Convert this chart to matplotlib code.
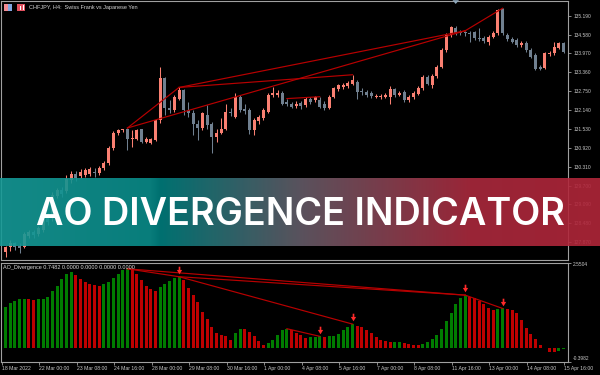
import numpy as np
import matplotlib
matplotlib.use("Agg")
import matplotlib.pyplot as plt
from matplotlib.font_manager import FontProperties, fontManager
from matplotlib.textpath import TextPath
from matplotlib.path import Path
from matplotlib.patches import Rectangle, Polygon

# ---------------- data ----------------
symbol_title = "CHFJPY, H4:  Swiss Frank vs Japanese Yen"
indicator_title = "AO_Divergence 0.7482 0.0000 0.0000 0.0000 0.0000"
banner_title = "AO DIVERGENCE INDICATOR"

open_p = [127.54, 127.70, 127.83, 127.76, 127.73, 128.06, 128.19, 128.15, 128.25, 128.70,
          128.64, 129.35, 129.55, 129.51, 129.87, 130.06, 130.00, 130.03, 130.06, 130.14,
          130.10, 130.26, 130.42, 130.90, 131.39, 131.49, 131.54, 131.19, 131.22, 131.53,
          131.11, 131.08, 131.16, 131.81, 133.16, 132.19, 132.13, 132.51, 132.78, 132.13,
          132.04, 131.70, 131.57, 131.97, 131.68, 131.27, 131.40, 131.52, 132.08, 131.92,
          132.57, 132.16, 132.13, 131.49, 131.79, 131.87, 132.08, 132.62, 132.62, 132.68,
          132.40, 132.33, 132.26, 132.36, 132.30, 132.51, 132.46, 132.48, 132.35, 132.22,
          132.57, 132.81, 132.87, 132.91, 132.99, 133.05, 132.76, 132.72, 132.68, 132.57,
          132.57, 132.57, 132.55, 132.81, 132.63, 132.73, 132.46, 132.55, 132.65, 132.84,
          133.21, 132.94, 133.24, 133.54, 134.08, 134.56, 134.80, 134.67, 134.67, 134.64,
          134.65, 134.46, 134.46, 134.35, 134.51, 134.62, 135.39, 134.56, 134.42, 134.40,
          134.24, 134.29, 134.08, 133.92, 133.54, 133.50, 133.95, 133.97, 134.16, 134.29]
high_p = [127.76, 127.93, 127.89, 127.83, 128.19, 128.25, 128.28, 128.38, 128.80, 128.80,
          129.48, 129.61, 129.64, 130.03, 130.16, 130.16, 130.22, 130.26, 130.29, 130.26,
          130.32, 130.48, 130.97, 131.45, 131.53, 131.53, 131.56, 131.49, 131.54, 131.54,
          131.26, 131.23, 131.84, 133.54, 133.20, 132.46, 132.62, 132.87, 132.81, 132.40,
          132.13, 131.81, 132.07, 132.30, 131.75, 131.54, 131.87, 132.35, 132.20, 132.68,
          132.62, 132.33, 132.20, 131.88, 131.97, 132.20, 132.70, 132.89, 132.78, 132.75,
          132.51, 132.39, 132.43, 132.43, 132.57, 132.57, 132.59, 132.57, 132.43, 132.62,
          132.88, 132.99, 133.01, 133.07, 133.28, 133.11, 132.85, 132.78, 132.75, 132.65,
          132.65, 132.69, 132.91, 132.85, 132.75, 132.78, 132.62, 132.75, 132.91, 133.27,
          133.27, 133.30, 133.59, 134.14, 134.63, 134.85, 134.84, 134.72, 134.70, 134.69,
          134.69, 134.78, 134.53, 134.56, 134.69, 135.40, 135.43, 134.63, 134.50, 134.47,
          134.37, 134.37, 134.14, 133.98, 133.59, 134.01, 134.04, 134.35, 134.34, 134.34]
low_p = [127.38, 127.60, 127.63, 127.51, 127.67, 127.99, 127.99, 128.06, 128.19, 128.41,
         128.57, 129.29, 129.32, 129.45, 129.77, 129.84, 129.93, 129.97, 130.00, 129.97,
         130.03, 130.19, 130.35, 130.84, 131.33, 131.42, 130.84, 130.95, 131.16, 131.07,
         131.07, 131.03, 131.13, 131.71, 131.97, 132.03, 132.07, 132.46, 131.97, 131.92,
         131.33, 131.16, 131.49, 131.54, 130.74, 131.11, 131.36, 131.49, 131.94, 131.88,
         132.07, 132.00, 131.38, 131.33, 131.68, 131.81, 132.04, 132.56, 132.56, 132.30,
         132.26, 132.19, 132.20, 132.17, 132.23, 132.33, 132.39, 132.20, 132.13, 132.17,
         132.52, 132.75, 132.81, 132.85, 132.94, 132.51, 132.62, 132.56, 132.52, 132.52,
         132.51, 132.52, 132.35, 132.56, 132.59, 132.39, 132.40, 132.49, 132.62, 132.78,
         132.94, 132.84, 133.17, 133.50, 134.01, 134.50, 134.56, 134.56, 134.53, 134.35,
         134.40, 134.37, 134.30, 134.24, 134.47, 134.56, 134.56, 134.37, 134.30, 134.17,
         134.17, 134.02, 133.82, 133.43, 133.43, 133.46, 133.88, 133.92, 134.11, 133.98]
close_p = [127.70, 127.83, 127.73, 127.67, 128.12, 128.19, 128.09, 128.32, 128.74, 128.51,
           129.38, 129.55, 129.42, 129.90, 130.06, 129.93, 130.13, 130.19, 130.22, 130.10,
           130.26, 130.42, 130.90, 131.39, 131.50, 131.52, 131.22, 131.25, 131.51, 131.11,
           131.22, 131.19, 131.81, 133.16, 132.19, 132.13, 132.57, 132.78, 132.13, 132.04,
           131.70, 131.57, 132.03, 131.65, 131.27, 131.40, 131.54, 132.08, 132.03, 132.57,
           132.13, 132.11, 131.49, 131.81, 131.90, 132.13, 132.62, 132.68, 132.70, 132.35,
           132.33, 132.24, 132.35, 132.26, 132.51, 132.40, 132.55, 132.24, 132.22, 132.57,
           132.84, 132.94, 132.94, 133.02, 133.11, 132.73, 132.72, 132.64, 132.59, 132.60,
           132.60, 132.62, 132.81, 132.62, 132.68, 132.46, 132.55, 132.68, 132.84, 133.21,
           132.99, 133.24, 133.54, 134.08, 134.56, 134.81, 134.62, 134.62, 134.62, 134.59,
           134.46, 134.42, 134.38, 134.49, 134.64, 135.37, 134.62, 134.42, 134.35, 134.24,
           134.31, 134.08, 133.86, 133.48, 133.48, 133.97, 133.99, 134.18, 134.29, 134.02]

ao_values = [1.233, 1.354, 1.414, 1.465, 1.474, 1.462, 1.444, 1.453, 1.474, 1.525,
             1.706, 1.865, 2.046, 2.217, 2.256, 2.175, 2.046, 1.955, 1.916, 1.874,
             1.865, 1.904, 1.977, 2.076, 2.217, 2.316, 2.362, 2.338, 2.217, 2.037,
             1.856, 1.754, 1.715, 1.814, 1.916, 1.995, 2.076, 2.127, 2.016, 1.805,
             1.573, 1.375, 1.074, 0.872, 0.623, 0.451, 0.400, 0.352, 0.241, 0.451,
             0.572, 0.557, 0.490, 0.370, 0.220, 0.099, 0.144, 0.256, 0.400, 0.526,
             0.578, 0.542, 0.451, 0.391, 0.301, 0.322, 0.340, 0.352, 0.340, 0.349,
             0.358, 0.421, 0.542, 0.623, 0.716, 0.671, 0.623, 0.542, 0.451, 0.322,
             0.256, 0.205, 0.181, 0.187, 0.193, 0.159, 0.120, 0.099, 0.081, 0.111,
             0.181, 0.280, 0.400, 0.581, 0.803, 1.032, 1.303, 1.483, 1.579, 1.534,
             1.483, 1.405, 1.303, 1.203, 1.134, 1.164, 1.182, 1.164, 1.134, 1.032,
             0.833, 0.602, 0.430, 0.280, 0.099, 0.009, -0.120, -0.129, -0.099, -0.015]

price_ticks = [135.190, 134.580, 133.970, 133.360, 132.750, 132.140, 131.530,
               130.920, 130.310, 129.700, 129.090, 128.480, 127.870]
price_range = (127.311, 135.663)
ao_range = (-0.3982, 2.5504)

time_labels = ["18 Mar 2022", "22 Mar 00:00", "23 Mar 08:00", "24 Mar 16:00",
               "28 Mar 00:00", "29 Mar 08:00", "30 Mar 16:00", "1 Apr 00:00",
               "4 Apr 08:00", "5 Apr 16:00", "7 Apr 00:00", "8 Apr 08:00",
               "11 Apr 16:00", "13 Apr 00:00", "14 Apr 08:00", "15 Apr 16:00"]
time_label_bars = [0, 8, 16, 24, 32, 40, 48, 56, 64, 72, 80, 88, 96, 104, 112, 120]

divergence_pairs = [(26, 37), (37, 98), (26, 98), (37, 74), (60, 67), (98, 106)]
arrow_bars = [37, 67, 74, 98, 106]

# ---------------- style / layout ----------------
W, H = 600, 375
BAR0_PX, BAR_STEP_PX = 5.5, 4.69
SALMON, SLATE = "#FA8072", "#708090"
AO_UP, AO_DN = "#007C00", "#BE0000"
DIV_COL, ARROW_COL = "#B80000", "#FF2A2A"
FRAME = "#A0A0A0"
LABEL = "#C8C8C8"

names = {f.name for f in fontManager.ttflist}
small_family = "Liberation Sans" if "Liberation Sans" in names else "DejaVu Sans"

fig = plt.figure(figsize=(W / 100, H / 100), dpi=100, facecolor="black")


def box(x0, y0, x1, y1):
    return [x0 / W, 1 - y1 / H, (x1 - x0) / W, (y1 - y0) / H]


def ink(s, fp):
    return TextPath((0, 0), s, size=100, prop=fp).get_extents()


def fit_size(s, fp, width_px):
    return width_px * 72.0 / ink(s, fp).width


def put_text(s, fp, left_px, right_px, center_y_px, color, zorder=3):
    ext = ink(s, fp)
    f = (right_px - left_px) * 72.0 / ext.width
    x_anchor = left_px - ext.x0 * f / 72.0
    base = center_y_px + (ext.y0 + ext.y1) / 2 * f / 72.0
    fp2 = fp.copy()
    fp2.set_size(f)
    fig.text(x_anchor / W, 1 - base / H, s, fontproperties=fp2, color=color,
             ha="left", va="baseline", zorder=zorder)


n = len(close_p)
idx = np.arange(n)
o = np.array(open_p); c = np.array(close_p)
hi = np.array(high_p); lo = np.array(low_p)
ao = np.array(ao_values)

xlim = ((1 - BAR0_PX) / BAR_STEP_PX, (568 - BAR0_PX) / BAR_STEP_PX)
body_w = 3.0 / BAR_STEP_PX

ax1 = fig.add_axes(box(1, 1, 568, 259.5))
ax2 = fig.add_axes(box(1, 262.5, 568, 361.5))
for ax in (ax1, ax2):
    ax.set_facecolor("black")
    ax.set_xlim(*xlim)
    for sp in ax.spines.values():
        sp.set_color(FRAME)
        sp.set_linewidth(0.8)

# candles
up = c >= o
ccol = np.where(up, SALMON, SLATE)
ax1.vlines(idx, lo, hi, colors=ccol, linewidth=0.75)
body_lo = np.minimum(o, c)
body_h = np.maximum(np.abs(c - o), 0.03)
ax1.bar(idx, body_h, bottom=body_lo, width=body_w, color=ccol, linewidth=0)
ax1.set_ylim(*price_range)

# divergence lines on price
for i, j in divergence_pairs:
    ax1.plot([i, j], [hi[i], hi[j]], color=DIV_COL, linewidth=0.85)

# price axis
fs_small = fit_size("135.190", FontProperties(family=small_family), 17.3)
ax1.yaxis.tick_right()
ax1.set_yticks(price_ticks, labels=[f"{v:.3f}" for v in price_ticks])
ax1.tick_params(axis="y", direction="out", length=2.2, width=0.6, color=FRAME,
                labelcolor=LABEL, labelsize=fs_small, pad=1.6)
for t in ax1.get_yticklabels():
    t.set_family(small_family)
ax1.set_xticks([])

# AO histogram
aocol = [AO_UP] + [AO_UP if ao[k] > ao[k - 1] else AO_DN for k in range(1, n)]
ax2.bar(idx, ao, width=body_w, color=aocol, linewidth=0)
ax2.set_ylim(*ao_range)
for i, j in divergence_pairs:
    ax2.plot([i, j], [ao[i], ao[j]], color=DIV_COL, linewidth=0.85)

arrow_marker = Path([(-0.22, 1.0), (0.22, 1.0), (0.22, 0.15), (0.7, 0.15), (0.0, -1.0),
                     (-0.7, 0.15), (-0.22, 0.15), (-0.22, 1.0)])
arrow_gap = 0.2
ax2.scatter(arrow_bars, ao[arrow_bars] + arrow_gap, marker=arrow_marker, s=30,
            color=ARROW_COL, linewidths=0, zorder=5)

ax2.yaxis.tick_right()
ax2.set_yticks(list(ao_range), labels=[f"{v:.4f}" for v in ao_range])
ax2.tick_params(axis="y", direction="out", length=2.2, width=0.6, color=FRAME,
                labelcolor=LABEL, labelsize=fs_small, pad=1.6)
ylabs = ax2.get_yticklabels()
ylabs[0].set_va("bottom")
ylabs[1].set_va("top")
for t in ylabs:
    t.set_family(small_family)

fs_time = fit_size("22 Mar 00:00", FontProperties(family=small_family), 29.5)
tick_pos = [b - 0.85 for b in time_label_bars]
ax2.set_xticks(tick_pos, labels=time_labels, ha="left", family=small_family)
ax2.tick_params(axis="x", direction="out", length=2.4, width=0.6, color=FRAME,
                labelcolor=LABEL, labelsize=fs_time, pad=0.8)

# header icons and texts
fig.patches.append(Rectangle((4 / W, 1 - 11 / H), 8 / W, 7 / H, transform=fig.transFigure,
                             facecolor="#F08A92", edgecolor="none"))
fig.patches.append(Rectangle((8 / W, 1 - 11 / H), 4 / W, 7 / H, transform=fig.transFigure,
                             facecolor="#7FA6E0", edgecolor="none"))
fig.patches.append(Rectangle((17 / W, 1 - 11 / H), 8 / W, 7 / H, transform=fig.transFigure,
                             facecolor="#E0505E", edgecolor="none"))
fig.patches.append(Rectangle((20 / W, 1 - 10 / H), 1.2 / W, 4 / H, transform=fig.transFigure,
                             facecolor="white", edgecolor="none"))
fig.patches.append(Rectangle((22.5 / W, 1 - 10 / H), 1.2 / W, 5 / H, transform=fig.transFigure,
                             facecolor="white", edgecolor="none"))
fig.patches.append(Polygon([(452.5 / W, 1 - 0.2 / H), (459 / W, 1 - 0.2 / H), (455.7 / W, 1 - 4 / H)],
                           closed=True, transform=fig.transFigure, facecolor="#8FA8BC",
                           edgecolor="none"))

put_text(symbol_title, FontProperties(family=small_family), 29, 137.7, 7.6, "#D4D4D4")
put_text(indicator_title, FontProperties(family=small_family), 3.3, 133, 267.8, "#DADADA")

# banner
bax = fig.add_axes(box(0, 178, 600, 246))
bax.set_axis_off()
bax.set_zorder(5)
stop_x = [0, 150, 160, 300, 470, 600]
stop_c = [(22, 155, 152), (10, 140, 138), (0, 126, 126), (100, 92, 104), (172, 42, 62), (178, 38, 58)]
xs = np.arange(W) + 0.5
grad = np.stack([np.interp(xs, stop_x, [sc[i] for sc in stop_c]) for i in range(3)], axis=-1) / 255.0
bax.imshow(grad[None, :, :], aspect="auto", extent=(0, W, 0, 1), alpha=0.9,
           interpolation="bilinear")
bax.set_xlim(0, W)
bax.set_ylim(0, 1)

target_ratio = (565 - 37) / (225.3 - 198.0)
cands = [("Open Sans", "semibold"), ("Open Sans", "bold"), ("Lato", "bold"),
         ("Inter", "semibold"), ("Roboto", "medium"), ("Noto Sans", "semibold"),
         ("DejaVu Sans", "bold")]
best, best_err = None, 1e9
for fam, wt in cands:
    if fam not in names:
        continue
    fp = FontProperties(family=fam, weight=wt)
    e = ink(banner_title, fp)
    err = abs(e.width / e.height - target_ratio)
    if err < best_err:
        best, best_err = fp, err
if best is None:
    best = FontProperties(family="DejaVu Sans", weight="bold")
put_text(banner_title, best, 37, 565, 211.7, "white", zorder=6)

fig.savefig("out.png", dpi=100, facecolor="black")
